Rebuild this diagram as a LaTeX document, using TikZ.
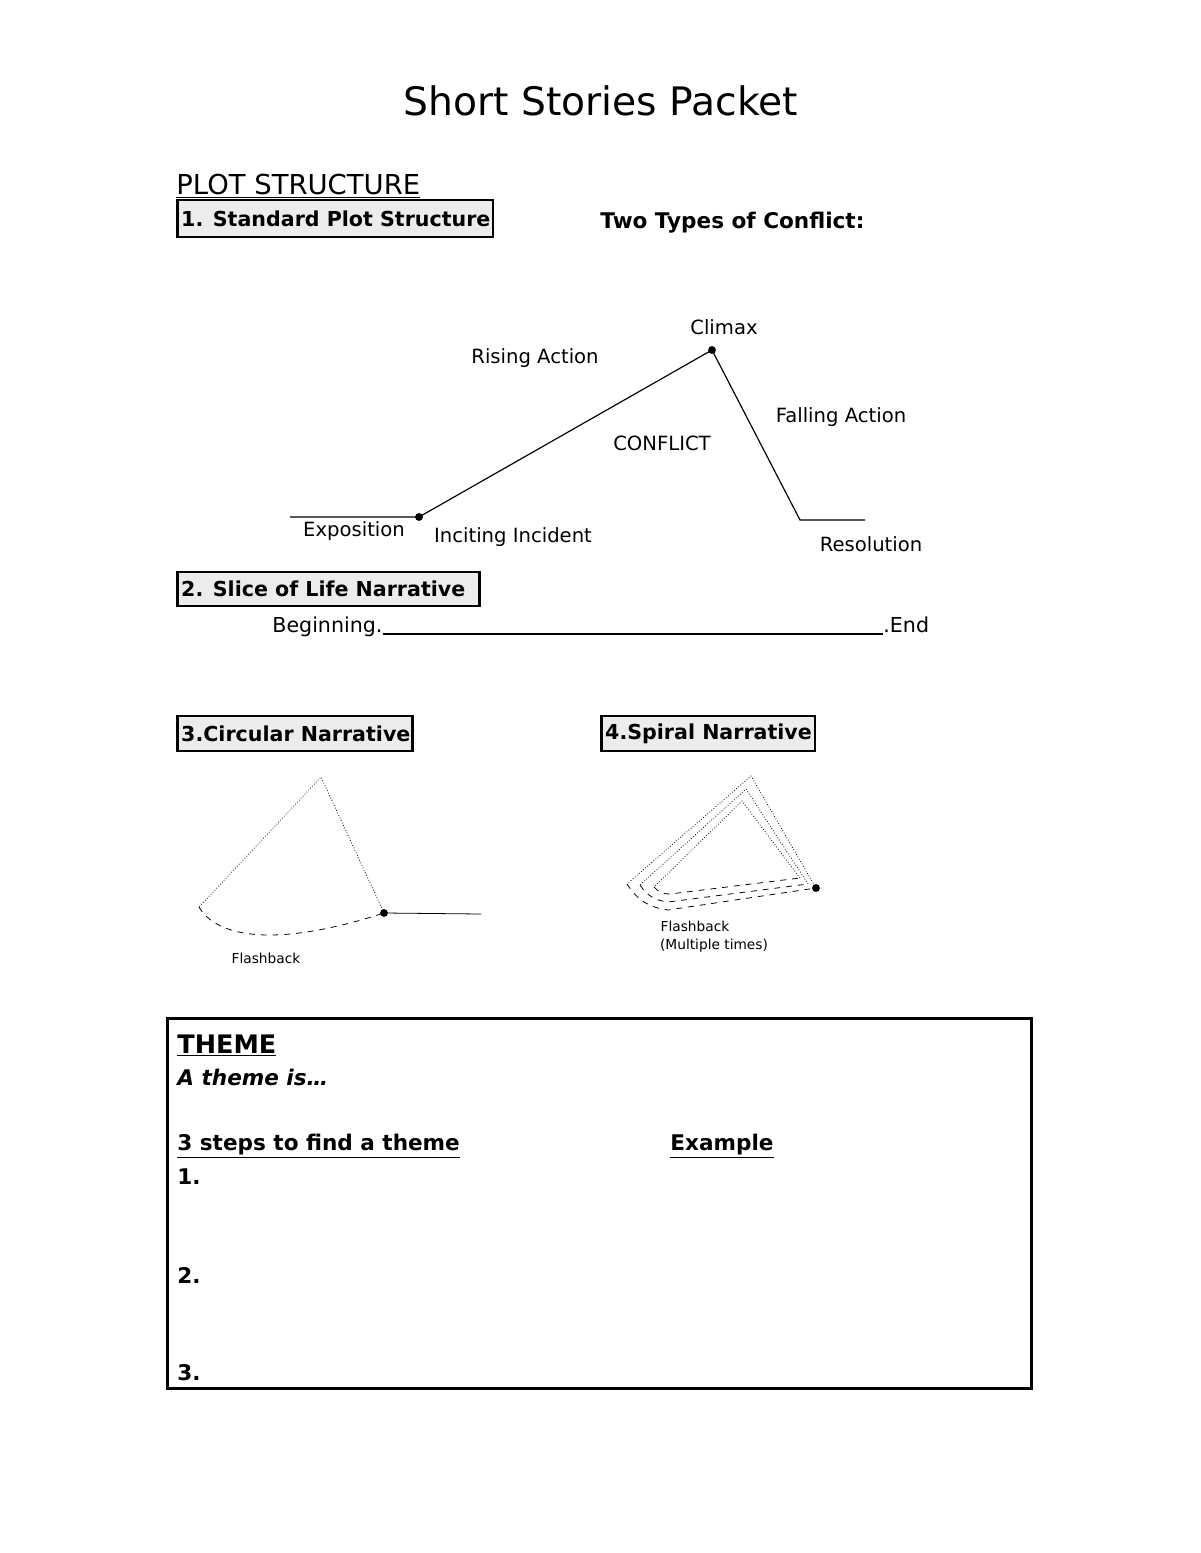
\documentclass[tikz,border=0pt]{standalone}
\usepackage{fontspec}
\setmainfont{DejaVu Sans}
\usepackage{xcolor}
\usepackage{tikz}
\usetikzlibrary{shapes,positioning,calc}

\tikzset{
  headbox/.style={rectangle,draw,fill=gray!15,line width=1.3pt,inner sep=2pt,anchor=west,font=\fontsize{10.5}{12}\selectfont\bfseries},
  plotlabel/.style={font=\fontsize{10}{12}\selectfont},
  smalllabel/.style={font=\fontsize{7}{8.5}\selectfont},
  themetext/.style={anchor=base west,inner sep=0pt,font=\fontsize{11}{13}\selectfont\bfseries},
  plotdot/.style={circle,fill,inner sep=0pt,minimum size=4pt},
  plotline/.style={line width=0.6pt}
}

\begin{document}
\begin{tikzpicture}[x=0.51pt,y=-0.51pt]
    \fill[white] (0,0) rectangle (1200,1553);
    \useasboundingbox (0,0) rectangle (1200,1553);

    % 标题
    \node[anchor=base,font=\fontsize{20}{24}\selectfont] (title) at (601,116) {Short Stories Packet};
    \node[anchor=base west,inner sep=0pt,font=\fontsize{14}{16}\selectfont] (plothead) at (176,194) {\underline{PLOT STRUCTURE}};

    % 1. 标准情节结构
    \node[headbox,minimum height=19pt] (std) at (176,218.5) {\makebox[157pt][l]{1. Standard Plot Structure}};
    \node[anchor=base west,inner sep=0pt,font=\fontsize{11}{13}\selectfont\bfseries] (conflict) at (600,228) {Two Types of Conflict:};

    \coordinate (expstart) at (290,517);
    \node[plotdot] (incite) at (419,517) {};
    \node[plotdot] (climax) at (712,350) {};
    \coordinate (resstart) at (800,520);
    \coordinate (resend) at (865,520);
    \draw[plotline] (expstart) -- (incite.center) -- (climax.center) -- (resstart) -- (resend);

    \node[plotlabel] (climaxlbl) at (724,327) {Climax};
    \node[plotlabel] (rising) at (535,358) {Rising Action};
    \node[plotlabel] (falling) at (841,417) {Falling Action};
    \node[plotlabel] (conf) at (662,443) {CONFLICT};
    \node[plotlabel] (expo) at (354,531) {Exposition};
    \node[plotlabel] (incid) at (513,537) {Inciting Incident};
    \node[plotlabel] (resol) at (871,544) {Resolution};

    % 2. 生活片段
    \node[headbox,minimum height=17.3pt] (slice) at (176,589) {\makebox[150pt][l]{2. Slice of Life Narrative}};
    \node[anchor=base west,inner sep=0pt,font=\fontsize{10.5}{12}\selectfont] (begin) at (272,632) {Beginning.};
    \node[anchor=base west,inner sep=0pt,font=\fontsize{10.5}{12}\selectfont] (end) at (883,632) {.End};
    \draw[line width=1pt] ($(begin.base east)+(0,2)$) -- ($(end.base west)+(0,2)$);

    % 3. 循环叙事
    \node[headbox,minimum height=17.9pt] (circ) at (176,733.5) {\makebox[116pt][l]{3.Circular Narrative}};
    \coordinate (ctop) at (321,777);
    \coordinate (cleft) at (199,907);
    \node[plotdot] (cjoin) at (384,913) {};
    \coordinate (cend) at (481,914);
    \draw[densely dotted] (cjoin.center) -- (ctop) -- (cleft);
    \draw[dashed] (cleft) .. controls (215,935) and (270,950) .. (cjoin.center);
    \draw (cjoin.center) -- (cend);
    \node[smalllabel] (cflash) at (266,958) {Flashback};

    % 4. 螺旋叙事
    \node[headbox,minimum height=17.9pt] (spiral) at (600,733.5) {\makebox[105pt][l]{4.Spiral Narrative}};
    \node[plotdot] (sdot) at (816,888) {};
    \foreach \tx/\ty/\lx/\ly/\bx/\by/\rx/\ry in {751/776/627/884/668/910/816/888, 746/789/640/885/668/902/808/884, 742/801/654/887/670/894/800/878} {
        \draw[densely dotted] (\rx,\ry) -- (\tx,\ty) -- (\lx,\ly);
        \draw[dashed] (\lx,\ly) to[bend right=25] (\bx,\by) -- (\rx,\ry);
    }
    \node[smalllabel] (sflash) at (695,926) {Flashback};
    \node[smalllabel] (smulti) at (714,946) {(Multiple times)};

    % 主题
    \node[draw,line width=1.5pt,minimum width=441pt,minimum height=189pt,inner sep=0pt] (theme) at (599.5,1203.5) {};
    \node[themetext,font=\fontsize{13}{15}\selectfont\bfseries] (themehead) at (177,1053) {\underline{THEME}};
    \node[themetext,font=\fontsize{11}{13}\selectfont\bfseries\itshape] (themeis) at (177,1085) {A theme is…};
    \node[themetext] (steps) at (177,1150) {\underline{3 steps to find a theme}};
    \node[themetext] (example) at (670,1150) {\underline{Example}};
    \foreach \n/\y in {1/1184,2/1283,3/1380}
        \node[themetext] (step\n) at (177,\y) {\n.};
\end{tikzpicture}
\end{document}
